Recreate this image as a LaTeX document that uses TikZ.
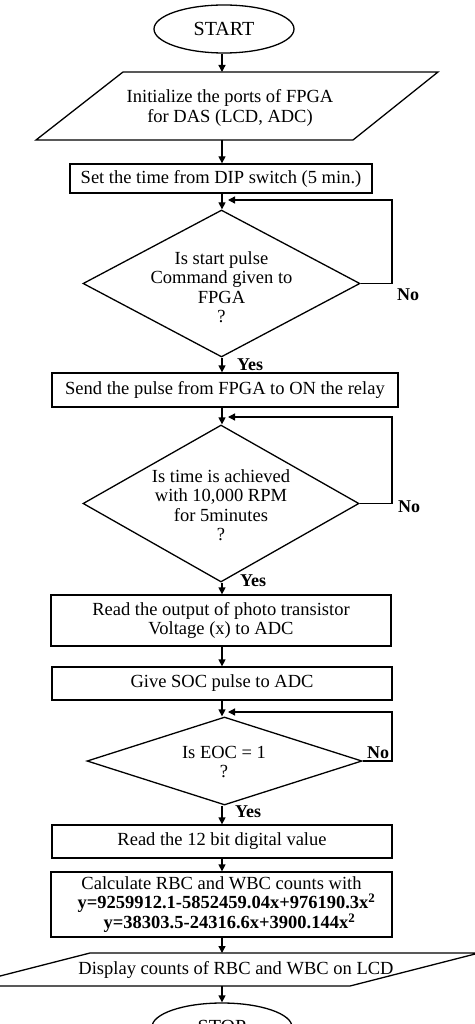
\documentclass[tikz,border=0pt]{standalone}
\usepackage{fontspec}
\setmainfont{Liberation Serif}
\usetikzlibrary{shapes.geometric,arrows.meta,calc}
\begin{document}
\begin{tikzpicture}[x=1pt,y=-1pt,line width=1.3pt,
  every node/.style={font=\fontsize{18.5}{19.5}\selectfont},
  box/.style={draw,rectangle,inner sep=0pt},
  dia/.style={draw,diamond,inner sep=0pt},
  term/.style={draw,ellipse,inner sep=0pt,minimum width=140pt,minimum height=48pt,font=\fontsize{20}{21}\selectfont},
  arr/.style={-{Triangle[length=7pt,width=7pt]}},
  lbl/.style={font=\fontsize{18}{19.5}\selectfont\bfseries,inner sep=0pt},
  txt/.style={align=center,inner sep=0pt}]
\useasboundingbox (0,0) rectangle (474,1024);
\fill[white] (0,0) rectangle (474,1024);
\coordinate (ax) at (222,0);
\coordinate (lx) at (392,0);

% START
\node[term] (start) at (224,29) {START};

% input parallelogram
\coordinate (p1t) at (222,72);
\coordinate (p1b) at (222,140);
\draw (123,72) -- (438,72) -- (353,140) -- (36,140) -- cycle;
\node[txt] (p1) at (230,108) {Initialize the ports of FPGA\\for DAS (LCD, ADC)};

\node[box,minimum width=302pt,minimum height=29pt] (r2) at (221,178.5) {Set the time from DIP switch (5 min.)};

\node[dia,minimum width=277pt,minimum height=147pt] (d1) at (221.5,283.5) {};
\node[txt] (d1t) at (221.5,287) {Is start pulse\\Command given to\\FPGA\\?};

\node[box,minimum width=346pt,minimum height=34pt] (r3) at (225,390) {Send the pulse from FPGA to ON the relay};

\node[dia,minimum width=276pt,minimum height=157pt] (d2) at (221,503.5) {};
\node[txt] (d2t) at (221,505) {Is time is achieved\\with 10,000 RPM\\for 5minutes\\?};

\node[box,minimum width=340pt,minimum height=51pt,align=center] (r4) at (221,620.5) {Read the output of photo transistor\\Voltage (x) to ADC};

\node[box,minimum width=340pt,minimum height=33pt] (r5) at (222,683.5) {Give SOC pulse to ADC};

\node[dia,minimum width=275pt,minimum height=88pt] (d3) at (224.5,761) {};
\node[txt] (d3t) at (224,762) {Is EOC = 1\\?};

\node[box,minimum width=340pt,minimum height=33pt] (r6) at (222,841.5) {Read the 12 bit digital value};

\node[box,minimum width=341pt,minimum height=65pt,align=center] (r7) at (221.5,904.5)
  {Calculate RBC and WBC counts with\\
   {\fontsize{18.5}{20}\selectfont\bfseries\hspace*{10pt}y=9259912.1-5852459.04x+976190.3x\textsuperscript{2}}\\
   {\fontsize{18.5}{20}\selectfont\bfseries\hspace*{16pt}y=38303.5-24316.6x+3900.144x\textsuperscript{2}}};

% output parallelogram
\coordinate (p2t) at (222,953);
\coordinate (p2b) at (222,986);
\draw (90,953) -- (479,953) -- (350,986) -- (-39,986) -- cycle;
\node[txt] (p2) at (236,970) {Display counts of RBC and WBC on LCD};

\node[term] (stop) at (222,1027) {STOP};

% main flow
\draw[arr] (start.south -| ax) -- (p1t);
\draw[arr] (p1b) -- (r2.north -| ax);
\draw[arr] (r2.south -| ax) -- (d1.north -| ax);
\draw[arr] (d1.south -| ax) -- (r3.north -| ax);
\draw[arr] (r3.south -| ax) -- (d2.north -| ax);
\draw[arr] (d2.south -| ax) -- (r4.north -| ax);
\draw[arr] (r4.south -| ax) -- (r5.north -| ax);
\draw[arr] (r5.south -| ax) -- (d3.north -| ax);
\draw[arr] (d3.south -| ax) -- (r6.north -| ax);
\draw[arr] (r6.south -| ax) -- (r7.north -| ax);
\draw[arr] (r7.south -| ax) -- (p2t);
\draw[arr] (p2b) -- (stop.north -| ax);

% loops
\coordinate (j1) at (228,200);
\coordinate (j2) at (228,417);
\coordinate (j3) at (228,712);
\draw[arr] (d1.east) -- (d1.east -| lx) |- (j1);
\draw[arr] (d2.east) -- (d2.east -| lx) |- (j2);
\draw[arr] (d3.east) -- (d3.east -| lx) |- (j3);

% labels
\node[lbl] (y1) at (250,365) {Yes};
\node[lbl] (n1) at (408,295) {No};
\node[lbl] (y2) at (253,581) {Yes};
\node[lbl] (n2) at (409,507) {No};
\node[lbl] (y3) at (248,812) {Yes};
\node[lbl] (n3) at (378,753) {No};
\end{tikzpicture}
\end{document}
